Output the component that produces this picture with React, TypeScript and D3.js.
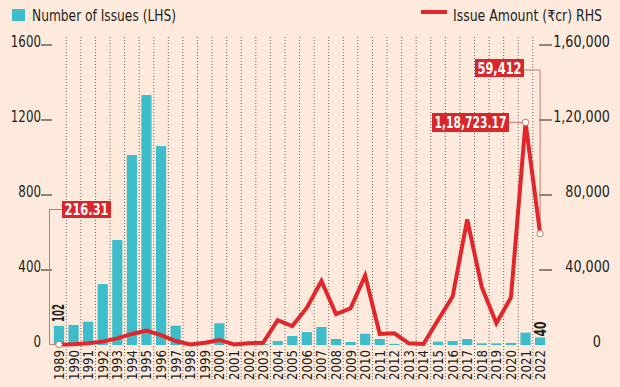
import React, { useRef, useEffect } from 'react';
import * as d3 from 'd3';

// years on the x axis
const years: string[] = [
  '1989', '1990', '1991', '1992', '1993', '1994', '1995', '1996', '1997', '1998',
  '1999', '2000', '2001', '2002', '2003', '2004', '2005', '2006', '2007', '2008',
  '2009', '2010', '2011', '2012', '2013', '2014', '2015', '2016', '2017', '2018',
  '2019', '2020', '2021', '2022',
];

// Number of issues (LHS)
const issues: number[] = [
  102, 107, 124, 325, 560, 1013, 1333, 1061, 103, 3,
  3, 116, 2, 3, 5, 21, 48, 69, 96, 32,
  16, 60, 32, 6, 2, 2, 18, 21, 32, 9,
  9, 11, 66, 40,
];

// Issue amount, Rs crore (RHS)
const amount: number[] = [
  216.31, 400, 900, 1800, 3500, 5900, 7700, 5300, 2100, 300,
  1200, 2700, 300, 900, 1200, 13200, 10100, 19900, 34100, 16500,
  19600, 37000, 5900, 6200, 900, 500, 13300, 25800, 67000, 30800,
  11600, 25400, 118723.17, 59412,
];

const leftTicks: number[] = [0, 400, 800, 1200, 1600];
const rightTicks: number[] = [0, 40000, 80000, 120000, 160000];
const rightTickLabels: string[] = ['0', '40,000', '80,000', '1,20,000', '1,60,000'];

const FONT = "'DejaVu Sans Condensed', 'DejaVu Sans', sans-serif";

// squeeze a text element horizontally to a share of its natural width
const squeeze = (sel: any, k: number) => {
  sel.each(function (this: SVGTextElement) {
    const w = this.getComputedTextLength();
    d3.select(this).attr('textLength', w * k).attr('lengthAdjust', 'spacingAndGlyphs');
  });
};

const Chart = () => {
  const svgRef = useRef<SVGSVGElement | null>(null);

  useEffect(() => {
    const width = 620;
    const height = 387;
    const bg = '#fdeadc';
    const teal = '#3dbdc9';
    const red = '#e3262b';
    const boxRed = '#d8262b';
    const leader = '#c87a6e';
    const ink = '#231f20';

    const svg = d3.select(svgRef.current)
      .attr('width', width)
      .attr('height', height)
      .style('font-family', FONT);

    svg.selectAll('*').remove();

    svg.append('rect')
      .attr('width', width)
      .attr('height', height)
      .attr('fill', bg);

    // scales
    const x = d3.scaleBand<string>()
      .domain(years)
      .range([51.7, 547.4])
      .paddingInner(0.3)
      .paddingOuter(0.15);
    const step = x.step();
    const gap = step - x.bandwidth();
    const cx = (y: string) => (x(y) as number) + x.bandwidth() / 2;

    const yL = d3.scaleLinear().domain([0, 1600]).range([345, 45]);
    const yR = d3.scaleLinear().domain([0, 160000]).range([345, 45]);

    // dotted year separators
    svg.append('g')
      .selectAll('line')
      .data(years.slice(1))
      .join('line')
      .attr('x1', d => (x(d) as number) - gap / 2)
      .attr('x2', d => (x(d) as number) - gap / 2)
      .attr('y1', 37)
      .attr('y2', 381)
      .attr('stroke', '#4a4040')
      .attr('stroke-width', 0.8)
      .attr('stroke-dasharray', '1 2');

    // bars
    svg.append('g')
      .selectAll('rect')
      .data(years)
      .join('rect')
      .attr('x', d => x(d) as number)
      .attr('y', (d, i) => yL(issues[i]))
      .attr('width', x.bandwidth())
      .attr('height', (d, i) => yL(0) - yL(issues[i]))
      .attr('fill', teal);

    // left axis
    const gl = svg.append('g');
    leftTicks.forEach(t => {
      if (t > 0) {
        gl.append('line')
          .attr('x1', 41).attr('x2', 52)
          .attr('y1', yL(t)).attr('y2', yL(t))
          .attr('stroke', ink).attr('stroke-width', 1);
      }
    });
    gl.selectAll('text')
      .data(leftTicks)
      .join('text')
      .attr('x', 41)
      .attr('y', d => yL(d) + 2)
      .attr('text-anchor', 'end')
      .attr('font-size', 16.5)
      .attr('fill', ink)
      .text(d => d)
      .call(squeeze, 0.8);

    // right axis
    const gr = svg.append('g');
    rightTicks.forEach(t => {
      if (t > 0) {
        gr.append('line')
          .attr('x1', 539).attr('x2', 552)
          .attr('y1', yR(t)).attr('y2', yR(t))
          .attr('stroke', ink).attr('stroke-width', 1);
      }
    });
    gr.selectAll('text')
      .data(rightTicks)
      .join('text')
      .attr('x', d => (d > 0 ? 610 : 601))
      .attr('y', d => yR(d) + 2)
      .attr('text-anchor', 'end')
      .attr('font-size', 16.5)
      .attr('fill', ink)
      .text((d, i) => rightTickLabels[i])
      .call(squeeze, 0.86);

    // year labels
    svg.append('g')
      .selectAll('text')
      .data(years)
      .join('text')
      .attr('transform', d => `translate(${cx(d) + 5},350) rotate(-90)`)
      .attr('text-anchor', 'end')
      .attr('font-size', 14)
      .attr('fill', ink)
      .attr('textLength', 30)
      .attr('lengthAdjust', 'spacingAndGlyphs')
      .text(d => d);

    // leader lines
    const i21 = years.indexOf('2021');
    const i22 = years.indexOf('2022');
    const p89 = [cx(years[0]), yR(amount[0])];
    const p21 = [cx(years[i21]), yR(amount[i21])];
    const p22 = [cx(years[i22]), yR(amount[i22])];

    svg.append('path')
      .attr('d', `M62,209.5 H49.5 V${p89[1]} H${p89[0]}`)
      .attr('fill', 'none').attr('stroke', leader).attr('stroke-width', 1);
    svg.append('path')
      .attr('d', `M508,${p21[1]} H${p21[0]}`)
      .attr('fill', 'none').attr('stroke', leader).attr('stroke-width', 1);
    svg.append('path')
      .attr('d', `M523,70 H${p22[0]} V${p22[1]}`)
      .attr('fill', 'none').attr('stroke', leader).attr('stroke-width', 1);

    // issue amount line
    const line = d3.line<number>()
      .x((d, i) => cx(years[i]))
      .y(d => yR(d));

    svg.append('path')
      .datum(amount)
      .attr('fill', 'none')
      .attr('stroke', red)
      .attr('stroke-width', 4)
      .attr('stroke-linejoin', 'miter')
      .attr('d', line);

    [p89, p21, p22].forEach(p => {
      svg.append('circle')
        .attr('cx', p[0]).attr('cy', p[1]).attr('r', 3.2)
        .attr('fill', '#fff').attr('stroke', leader).attr('stroke-width', 1);
    });

    // value call-outs
    const callout = (label: string, x0: number, x1: number, y0: number, h: number) => {
      svg.append('rect')
        .attr('x', x0).attr('y', y0)
        .attr('width', x1 - x0).attr('height', h)
        .attr('fill', boxRed);
      svg.append('text')
        .attr('x', (x0 + x1) / 2)
        .attr('y', y0 + h / 2 + 5.5)
        .attr('text-anchor', 'middle')
        .attr('font-size', 15.5)
        .attr('font-weight', 'bold')
        .attr('fill', '#fff')
        .attr('textLength', x1 - x0 - 5)
        .attr('lengthAdjust', 'spacingAndGlyphs')
        .text(label);
    };
    callout('216.31', 62, 111, 201, 17);
    callout('1,18,723.17', 432, 509, 113, 19);
    callout('59,412', 475, 524, 59, 18);

    // bar value labels
    svg.append('text')
      .attr('transform', `translate(${cx(years[0]) + 5.5},${yL(issues[0]) - 4}) rotate(-90)`)
      .attr('font-size', 15)
      .attr('font-weight', 'bold')
      .attr('fill', ink)
      .attr('textLength', 18)
      .attr('lengthAdjust', 'spacingAndGlyphs')
      .text('102');
    svg.append('text')
      .attr('transform', `translate(${cx(years[i22]) + 5.5},${yL(issues[i22]) - 1}) rotate(-90)`)
      .attr('font-size', 15)
      .attr('font-weight', 'bold')
      .attr('fill', ink)
      .attr('textLength', 15)
      .attr('lengthAdjust', 'spacingAndGlyphs')
      .text('40');

    // legend
    svg.append('rect')
      .attr('x', 12).attr('y', 9).attr('width', 13).attr('height', 12)
      .attr('fill', teal);
    svg.append('text')
      .attr('x', 32).attr('y', 21)
      .attr('font-size', 16)
      .attr('fill', ink)
      .attr('textLength', 144)
      .attr('lengthAdjust', 'spacingAndGlyphs')
      .text('Number of Issues (LHS)');

    svg.append('line')
      .attr('x1', 421).attr('x2', 447)
      .attr('y1', 12).attr('y2', 12)
      .attr('stroke', red).attr('stroke-width', 4);
    svg.append('text')
      .attr('x', 453).attr('y', 21)
      .attr('font-size', 15)
      .attr('fill', ink)
      .attr('textLength', 149)
      .attr('lengthAdjust', 'spacingAndGlyphs')
      .text('Issue Amount (₹cr) RHS');
  }, []);

  return <svg ref={svgRef} style={{ display: 'block' }}></svg>;
};

export default function App() {
  return (
    <div style={{ position: 'absolute', left: 0, top: 0 }}>
      <Chart />
    </div>
  );
}
